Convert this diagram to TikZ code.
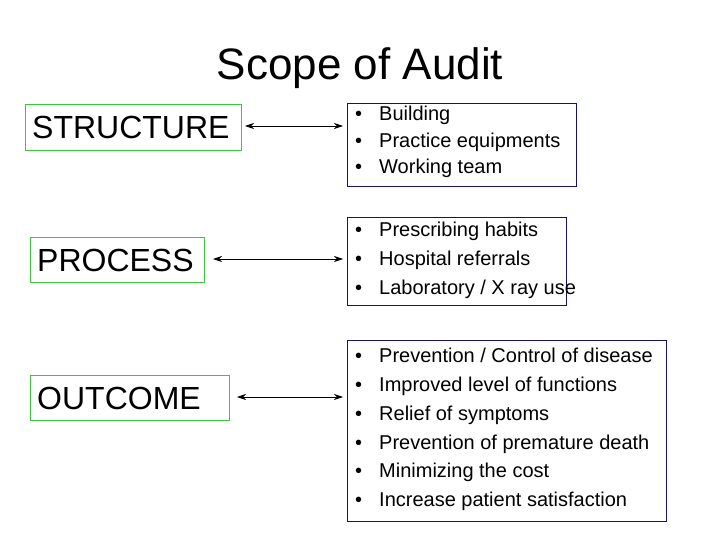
\documentclass[tikz,border=0pt]{standalone}
\usepackage{fontspec}
\setmainfont{Liberation Sans}
\usetikzlibrary{arrows.meta}
\definecolor{gbox}{RGB}{60,200,60}
\definecolor{bbox}{RGB}{20,20,110}
\begin{document}
\begin{tikzpicture}[x=1pt,y=-1pt,
  lbox/.style={draw=gbox, line width=0.8pt, anchor=north west, inner sep=0pt},
  ltext/.style={anchor=west, inner sep=0pt, font=\fontsize{32}{36}\selectfont},
  rbox/.style={draw=bbox, line width=0.8pt, anchor=north west, inner sep=0pt},
  rtext/.style={anchor=north west, inner sep=0pt, align=left},
  conn/.style={{Stealth[length=9pt,width=6pt]}-{Stealth[length=9pt,width=6pt]}, line width=0.7pt}]
\useasboundingbox (0,0) rectangle (720,540);
\node[font=\fontsize{44}{48}\selectfont] (title) at (360,68) {Scope of Audit};
\node[lbox, minimum width=216pt, minimum height=46pt] (s) at (25,104) {};
\node[ltext] (st) at (32,127) {STRUCTURE};
\node[lbox, minimum width=174pt, minimum height=45pt] (p) at (30,237) {};
\node[ltext] (pt) at (37,260) {PROCESS};
\node[lbox, minimum width=199pt, minimum height=45pt] (o) at (30,375) {};
\node[ltext] (ot) at (37,398) {OUTCOME};
\node[rbox, minimum width=229pt, minimum height=83pt] (b1) at (347,103) {};
\node[rtext, font=\fontsize{20}{26.5}\selectfont] (b1t) at (355,106) {•\hspace{17pt}Building\\•\hspace{17pt}Practice equipments\\•\hspace{17pt}Working team};
\node[rbox, minimum width=219pt, minimum height=88pt] (b2) at (347,217) {};
\node[rtext, font=\fontsize{20}{29}\selectfont] (b2t) at (355,222) {•\hspace{17pt}Prescribing habits\\•\hspace{17pt}Hospital referrals\\•\hspace{17pt}Laboratory / X ray use};
\node[rbox, minimum width=319pt, minimum height=181pt] (b3) at (347,340) {};
\node[rtext, font=\fontsize{20}{28.8}\selectfont] (b3t) at (355,348) {•\hspace{17pt}Prevention / Control of disease\\•\hspace{17pt}Improved level of functions\\•\hspace{17pt}Relief of symptoms\\•\hspace{17pt}Prevention of premature death\\•\hspace{17pt}Minimizing the cost\\•\hspace{17pt}Increase patient satisfaction};
\coordinate (a1) at (245,126); \coordinate (a2) at (343,126);
\coordinate (c1) at (213,259); \coordinate (c2) at (343,259);
\coordinate (d1) at (237,397); \coordinate (d2) at (343,397);
\draw[conn] (a1) -- (a2);
\draw[conn] (c1) -- (c2);
\draw[conn] (d1) -- (d2);
\end{tikzpicture}
\end{document}
